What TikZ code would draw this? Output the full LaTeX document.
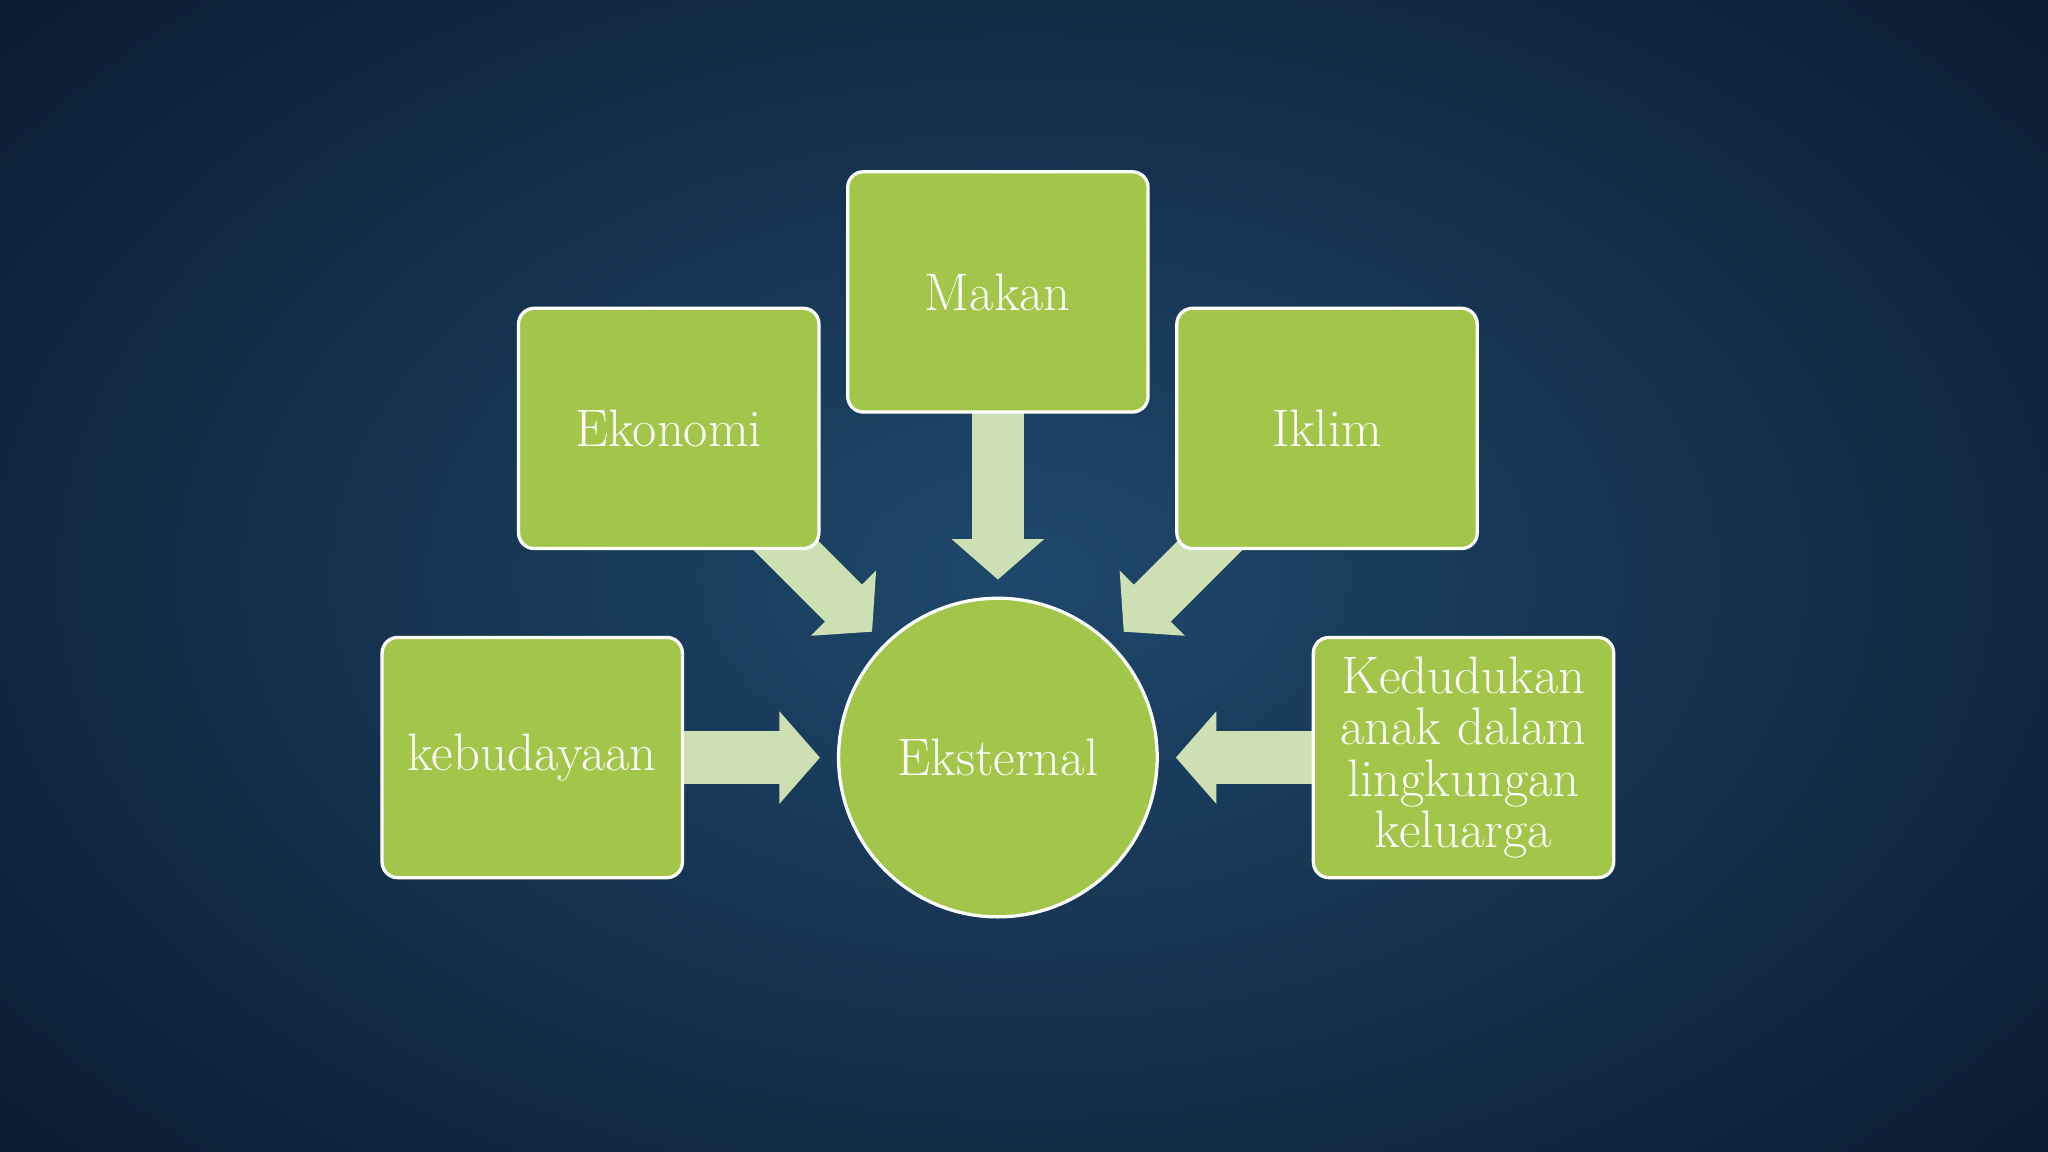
\documentclass[tikz,border=0pt]{standalone}
\usetikzlibrary{arrows.meta,backgrounds}
\definecolor{boxg}{HTML}{A2C64A}
\definecolor{arrg}{HTML}{CDE0B4}
\definecolor{bgin}{HTML}{1F486C}
\definecolor{bgout}{HTML}{0A1A2E}
\begin{document}
\begin{tikzpicture}[x=0.02cm,y=-0.02cm,
  box/.style={draw=white,line width=0.05cm,fill=boxg,rounded corners=0.24cm,minimum width=4.6cm,minimum height=3.68cm,text=white,align=center,font=\fontsize{23}{22.5}\selectfont,inner sep=0pt},
  blk/.style={draw=arrg,line width=0.8cm,-{Triangle[width=1.38cm,length=0.62cm]},shorten >=0.26cm}]
\useasboundingbox (0,0) rectangle (1568,882);
\node[box] (mak) at (764,223.5) {Makan};
\node[box] (eko) at (512,328) {Ekonomi};
\node[box] (ikl) at (1016,328) {Iklim};
\node[box] (keb) at (407.5,580) {kebudayaan};
\node[box] (ked) at (1120.5,580) {Kedudukan\\anak dalam\\lingkungan\\keluarga};
\node[circle,draw=white,line width=0.05cm,fill=boxg,minimum size=4.88cm,text=white,font=\fontsize{23}{22.5}\selectfont,inner sep=0pt] (ext) at (764,580) {Eksternal};
\begin{scope}[on background layer]
\clip (0,0) rectangle (1568,882);
\shade[inner color=bgin,outer color=bgout] (-300,-250) rectangle (1868,1132);
\draw[blk] (mak.center) -- (ext);
\draw[blk] (eko.center) -- (ext);
\draw[blk] (ikl.center) -- (ext);
\draw[blk] (keb.center) -- (ext);
\draw[blk] (ked.center) -- (ext);
\end{scope}
\end{tikzpicture}
\end{document}
